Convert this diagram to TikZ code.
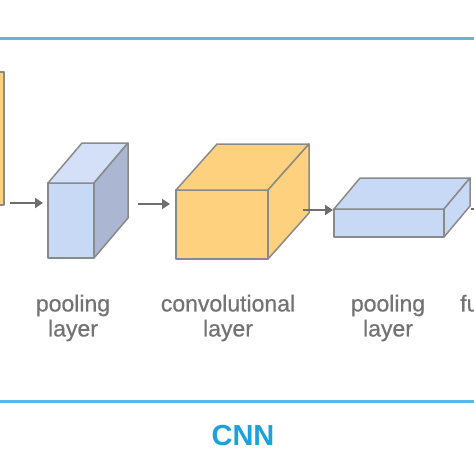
\documentclass[tikz,border=0pt]{standalone}
\usepackage{fontspec}
\setmainfont{Liberation Sans}
\newfontfamily\layerfont{Liberation Sans}[FakeBold=0.7]
\usepackage{xcolor}
\usetikzlibrary{positioning,arrows.meta}

\definecolor{convfill}{HTML}{FDD17E}
\definecolor{poolfill}{HTML}{C8D9F5}
\definecolor{pooltop}{HTML}{D3E0F7}
\definecolor{poolside}{HTML}{AAB6D2}
\definecolor{edgegray}{HTML}{8A8A8A}
\definecolor{arrowgray}{HTML}{6E6E6E}
\definecolor{labelgray}{HTML}{737373}
\definecolor{cnnblue}{HTML}{1DA1DB}
\definecolor{rulefill}{HTML}{5DB8E5}

\begin{document}
\begin{tikzpicture}[x=1pt, y=-1pt,
    face/.style={draw=edgegray, line width=1.5pt, line join=round},
    front/.style={face, inner sep=0pt, outer sep=0pt, anchor=north west},
    flow/.style={arrowgray, line width=2.2pt, -{Triangle[length=8pt,width=10pt]}},
    layername/.style={text=labelgray, font=\layerfont\fontsize{23}{25}\selectfont, align=center}]
\useasboundingbox (0,0) rectangle (474,474);
\clip (0,0) rectangle (474,474);

% blue rules
\coordinate (rule_top_l) at (-5,38.5);
\coordinate (rule_top_r) at (480,38.5);
\coordinate (rule_bot_l) at (-5,401);
\coordinate (rule_bot_r) at (480,401);
\draw[rulefill, line width=3pt] (rule_top_l) -- (rule_top_r);
\draw[rulefill, line width=3pt] (rule_bot_l) -- (rule_bot_r);

% convolutional layer, cut at the left edge
\node[front, fill=convfill, minimum width=64pt, minimum height=133pt] (conv_0) at (-60,72) {};

% pooling layer 1
\node[front, fill=poolfill, minimum width=46pt, minimum height=75pt] (pool_1) at (48,183) {};
\draw[face, fill=pooltop] (pool_1.north west) -- ++(34,-40) -- ++(46,0) -- (pool_1.north east) -- cycle;
\draw[face, fill=poolside] (pool_1.north east) -- ++(34,-40) -- ++(0,75) -- (pool_1.south east) -- cycle;

% convolutional layer 2
\node[front, fill=convfill, minimum width=92pt, minimum height=69pt] (conv_2) at (176,190) {};
\draw[face, fill=convfill] (conv_2.north west) -- ++(41,-46) -- ++(92,0) -- (conv_2.north east) -- cycle;
\draw[face, fill=convfill] (conv_2.north east) -- ++(41,-46) -- ++(0,69) -- (conv_2.south east) -- cycle;

% pooling layer 2
\node[front, fill=poolfill, minimum width=110pt, minimum height=28pt] (pool_2) at (334,209) {};
\draw[face, fill=poolfill] (pool_2.north west) -- ++(26,-31) -- ++(110,0) -- (pool_2.north east) -- cycle;
\draw[face, fill=poolfill] (pool_2.north east) -- ++(26,-31) -- ++(0,28) -- (pool_2.south east) -- cycle;

% arrows
\coordinate (flow_1s) at (10,203);
\coordinate (flow_1e) at (43,203);
\coordinate (flow_2s) at (138,204);
\coordinate (flow_2e) at (170,204);
\coordinate (flow_3s) at (303,210);
\coordinate (flow_3e) at (333,210);
\coordinate (flow_4s) at (471,209);
\coordinate (flow_4e) at (505,209);
\draw[flow] (flow_1s) -- (flow_1e);
\draw[flow] (flow_2s) -- (flow_2e);
\draw[flow] (flow_3s) -- (flow_3e);
\draw[flow] (flow_4s) -- (flow_4e);

% labels
\node[layername] (pool_1_name) at (73,318) {pooling\\layer};
\node[layername] (conv_2_name) at (228,318) {convolutional\\layer};
\node[layername] (pool_2_name) at (388,318) {pooling\\layer};
\node[layername, anchor=west, inner sep=0pt] (fc_name) at (460,318) {fully connected\\layer};

\node[text=cnnblue, font=\fontsize{29}{31}\selectfont\bfseries] (cnn_name) at (243,436) {CNN};

\end{tikzpicture}
\end{document}
